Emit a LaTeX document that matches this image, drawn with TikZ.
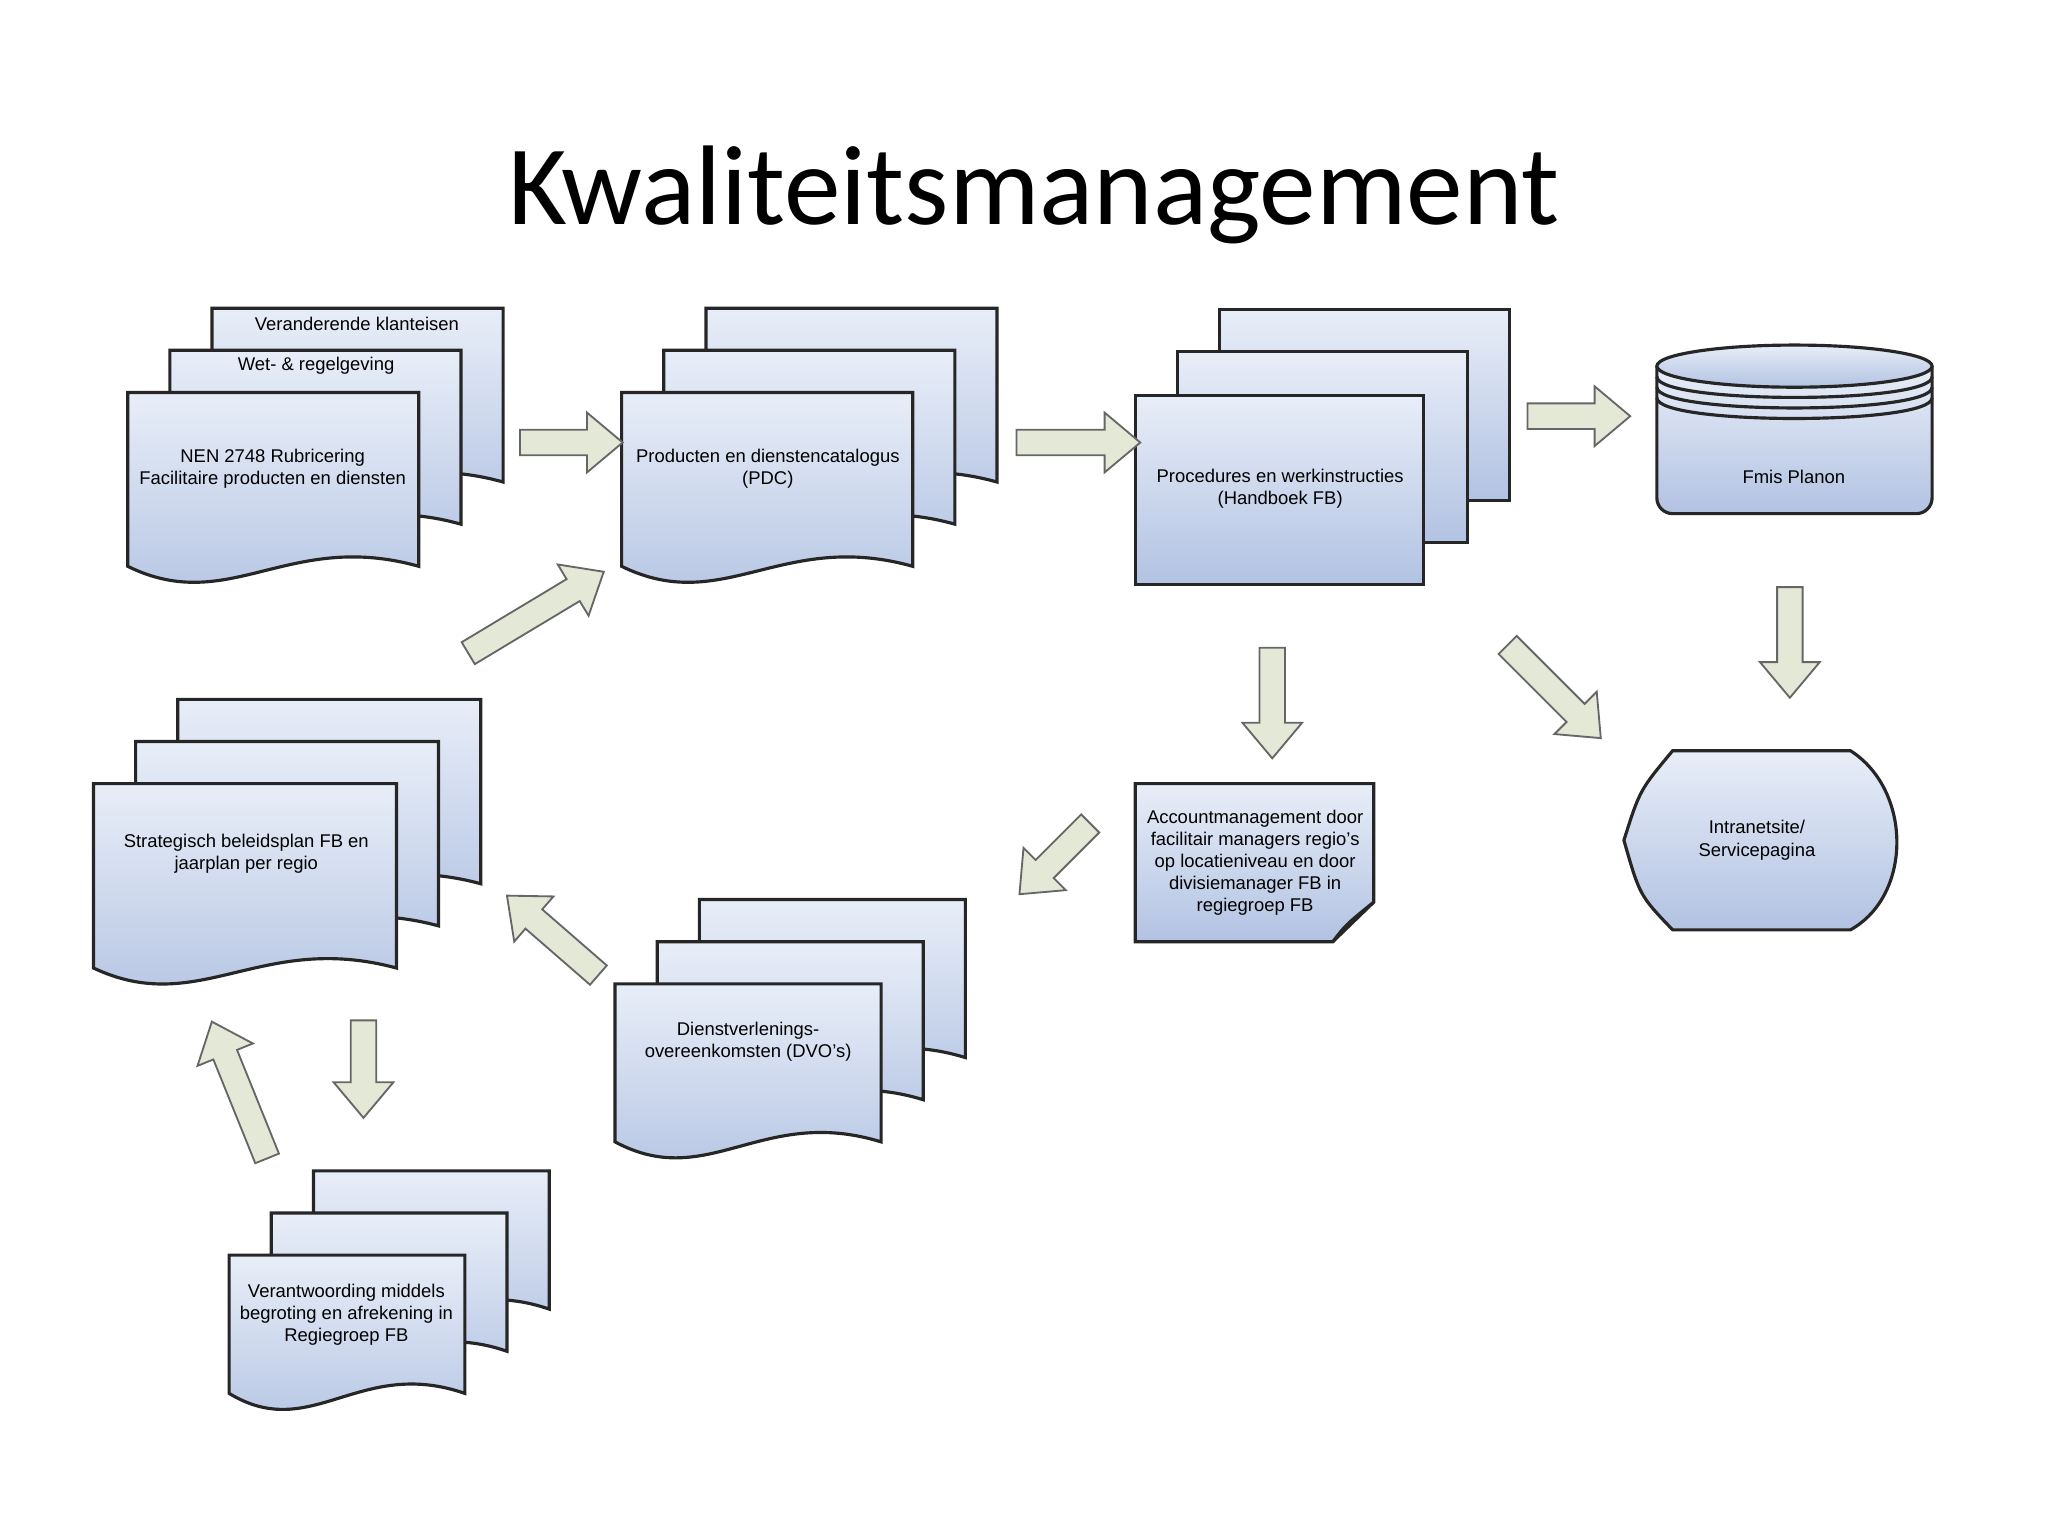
\documentclass[tikz,border=0pt]{standalone}
\usepackage{fontspec}
\setmainfont{Liberation Sans}
\newfontfamily\titlefont{Carlito}
\usetikzlibrary{shapes.arrows}
\definecolor{pagetop}{HTML}{E8EEF8}
\definecolor{pagebot}{HTML}{B2C2E2}
\definecolor{arrowfill}{HTML}{E4E8D6}
\tikzset{
  page/.style={draw=black!85, line width=1.2pt, top color=pagetop, bottom color=pagebot},
  label/.style={align=center, font=\fontsize{7}{8.4}\selectfont, inner sep=0pt},
  bigarrow/.style={single arrow, draw=black!60, fill=arrowfill, line width=0.7pt,
    minimum width=22pt, single arrow head extend=6.5pt, single arrow tip angle=80,
    inner xsep=0pt, inner ysep=4.5pt}
}
% one page with a wavy bottom: x, y, width, height
\newcommand\wavepage[4]{
  \draw [page] (#1,#2) -- ({#1+#3},#2) -- ({#1+#3},{#2+#4})
    .. controls ({#1+0.55*#3},{#2+#4-28}) and ({#1+0.35*#3},{#2+#4+38}) .. (#1,{#2+#4}) -- cycle;
}
\newcommand\wavestack[4]{
  \wavepage{#1+64}{#2-64}{#3}{#4}
  \wavepage{#1+32}{#2-32}{#3}{#4}
  \wavepage{#1}{#2}{#3}{#4}
}
\begin{document}
\begin{tikzpicture}[x=0.5pt, y=-0.5pt]
        \useasboundingbox (0,0) rectangle (1555,1166);
        \node (title) [font=\titlefont\fontsize{43}{50}\selectfont] at (785,148) {Kwaliteitsmanagement};

        % top row
        \wavestack{97}{298}{221}{132}
        \node (wet) [label] at (271,246) {Veranderende klanteisen};
        \node (regel) [label] at (240,278) {Wet- \& regelgeving};
        \node (nen) [label] at (207,356) {NEN 2748 Rubricering\\Facilitaire producten en diensten};

        \wavestack{472}{298}{221}{132}
        \node (pdc) [label] at (583,356) {Producten en dienstencatalogus\\(PDC)};

        \draw [page] (926,235) rectangle (1146,380);
        \draw [page] (894,267) rectangle (1114,412);
        \draw [page] (862,300) rectangle (1081,444);
        \node (proc) [label] at (972,371) {Procedures en werkinstructies\\(Handboek FB)};

        % database
        \draw [page, rounded corners=6pt] (1258,278) -- (1258,390) -- (1467,390) -- (1467,278);
        \draw [page] (1362.5,278) ellipse [x radius=104.5, y radius=16];
        \foreach \dy in {8,16,24}
          \draw [line width=1.2pt, black!85] (1258,278+\dy) .. controls (1258,299+\dy) and (1467,299+\dy) .. (1467,278+\dy);
        \node (fmis) [label] at (1362,362) {Fmis Planon};

        % card
        \draw [page] (862,595) -- (1043,595) -- (1043,685) -- (1012,715) -- (862,715) -- cycle;
        \draw [line width=1.2pt, black!85] (1012,715) .. controls (1022,702) .. (1043,685);
        \node (acc) [label] at (953,655) {Accountmanagement door\\facilitair managers regio's\\op locatieniveau en door\\divisiemanager FB in\\regiegroep FB};

        % display
        \draw [page] (1233,638) .. controls (1245,600) .. (1270,570) -- (1405,570)
          .. controls (1452,600) and (1452,680) .. (1405,706) -- (1270,706)
          .. controls (1245,680) .. (1233,638) -- cycle;
        \node (intra) [label] at (1334,638) {Intranetsite/\\Servicepagina};

        % lower part
        \wavestack{71}{595}{230}{140}
        \node (strat) [label] at (187,648) {Strategisch beleidsplan FB en\\jaarplan per regio};

        \wavestack{467}{747}{202}{120}
        \node (dvo) [label] at (568,791) {Dienstverlenings-\\overeenkomsten (DVO's)};

        \wavestack{174}{953}{179}{105}
        \node (verant) [label] at (263,998) {Verantwoording middels\\begroting en afrekening in\\Regiegroep FB};

        % block arrows
        \node (a1) [bigarrow, minimum height=39pt] at (428,336) {};
        \node (a2) [bigarrow, minimum height=47pt] at (813,336) {};
        \node (a3) [bigarrow, minimum height=39pt] at (1193,316) {};
        \node (a4) [bigarrow, minimum height=60pt, rotate=31] at (402,468) {};
        \node (a5) [bigarrow, minimum height=42pt, rotate=-90] at (966,528) {};
        \node (a6) [bigarrow, minimum height=50pt, rotate=-45] at (1176,521) {};
        \node (a7) [bigarrow, minimum height=42pt, rotate=-90] at (1359,482) {};
        \node (a8) [bigarrow, minimum height=38pt, rotate=-135] at (805,648) {};
        \node (a9) [bigarrow, minimum height=46pt, rotate=139] at (424,714) {};
        \node (a10) [bigarrow, minimum height=37pt, rotate=-90] at (276,806) {};
        \node (a11) [bigarrow, minimum height=56pt, rotate=112] at (184,833) {};
\end{tikzpicture}
\end{document}
